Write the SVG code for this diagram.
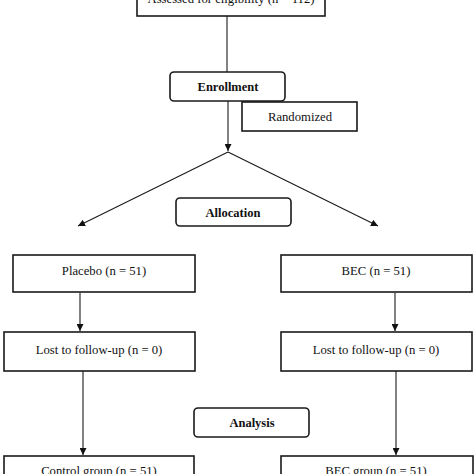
<svg xmlns="http://www.w3.org/2000/svg" width="474" height="474" viewBox="0 0 474 474">
<style>
.box{fill:#fff;stroke:#1a1a1a;stroke-width:1.6}
.t{font-family:"Liberation Serif","Times New Roman",serif;font-size:12.7px;fill:#111;text-anchor:middle}
.b{font-weight:bold;font-size:12.5px}
.ln{stroke:#1a1a1a;stroke-width:1.1;fill:none}
</style>
<defs>
<marker id="ah" viewBox="0 0 10 10" refX="10" refY="5" markerWidth="7" markerHeight="7" orient="auto" markerUnits="userSpaceOnUse">
<path d="M0,0 L10,5 L0,10 z" fill="#111"/>
</marker>
</defs>
<rect width="474" height="474" fill="#fff"/>
<g id="connectors">
<line class="ln" x1="227" y1="16" x2="227" y2="72"/>
<line class="ln" x1="228" y1="101" x2="228" y2="151" marker-end="url(#ah)"/>
<line class="ln" x1="228" y1="152" x2="78" y2="226" marker-end="url(#ah)"/>
<line class="ln" x1="228" y1="152" x2="378" y2="226" marker-end="url(#ah)"/>
<line class="ln" x1="80" y1="293" x2="80" y2="331" marker-end="url(#ah)"/>
<line class="ln" x1="395" y1="293" x2="395" y2="331" marker-end="url(#ah)"/>
<line class="ln" x1="83" y1="371" x2="83" y2="455" marker-end="url(#ah)"/>
<line class="ln" x1="396" y1="371" x2="396" y2="455" marker-end="url(#ah)"/>
</g>
<g id="assessed">
<rect class="box" x="137" y="-20" width="188" height="36"/>
<text class="t" x="231" y="3">Assessed for eligibility (n = 112)</text>
</g>
<g id="enrollment">
<rect class="box" x="170" y="72" width="115" height="29" rx="4"/>
<text class="t b" x="228" y="91">Enrollment</text>
</g>
<g id="randomized">
<rect class="box" x="242" y="102" width="115" height="29"/>
<text class="t" x="300" y="120.5">Randomized</text>
</g>
<g id="allocation">
<rect class="box" x="176" y="198" width="115" height="28" rx="4"/>
<text class="t b" x="233" y="216.5">Allocation</text>
</g>
<g id="placebo">
<rect class="box" x="13" y="255" width="182" height="37"/>
<text class="t" x="104" y="275">Placebo (n = 51)</text>
</g>
<g id="bec">
<rect class="box" x="281" y="255" width="191" height="37"/>
<text class="t" x="376" y="275">BEC (n = 51)</text>
</g>
<g id="lost-left">
<rect class="box" x="4" y="332" width="191" height="39"/>
<text class="t" x="99" y="353.5">Lost to follow-up (n = 0)</text>
</g>
<g id="lost-right">
<rect class="box" x="281" y="332" width="191" height="39"/>
<text class="t" x="376" y="353.5">Lost to follow-up (n = 0)</text>
</g>
<g id="analysis">
<rect class="box" x="194" y="408" width="115" height="29" rx="4"/>
<text class="t b" x="252" y="427">Analysis</text>
</g>
<g id="control-group">
<rect class="box" x="4" y="456" width="190" height="36"/>
<text class="t" x="99" y="475">Control group (n = 51)</text>
</g>
<g id="bec-group">
<rect class="box" x="281" y="456" width="192" height="36"/>
<text class="t" x="376" y="475">BEC group (n = 51)</text>
</g>
</svg>
